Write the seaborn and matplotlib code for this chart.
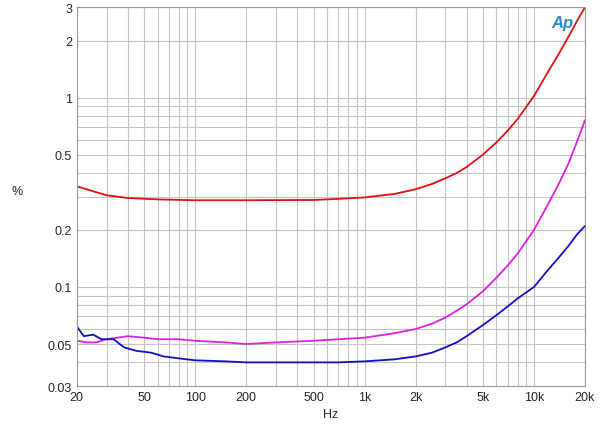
import matplotlib
matplotlib.use("Agg")
import matplotlib.pyplot as plt
from matplotlib.ticker import FixedLocator, NullFormatter, LogLocator
import seaborn as sns
import pandas as pd

# curve readings (Hz, %)
red_hz = [20, 25, 30, 40, 60, 100, 200, 500, 700, 1000, 1500, 2000, 2500, 3000, 3500, 4000, 5000, 6000, 7000, 8000, 10000, 12000, 14000, 16000, 18000, 20000]
red_pct = [0.34, 0.32, 0.305, 0.295, 0.29, 0.287, 0.287, 0.288, 0.292, 0.297, 0.31, 0.328, 0.35, 0.375, 0.40, 0.43, 0.50, 0.58, 0.67, 0.77, 1.02, 1.35, 1.7, 2.1, 2.55, 3.0]

mag_hz = [20, 23, 26, 30, 40, 50, 60, 80, 100, 150, 200, 300, 500, 700, 1000, 1500, 2000, 2500, 3000, 3500, 4000, 5000, 6000, 7000, 8000, 10000, 12000, 14000, 16000, 18000, 20000]
mag_pct = [0.052, 0.051, 0.051, 0.053, 0.055, 0.054, 0.053, 0.053, 0.052, 0.051, 0.050, 0.051, 0.052, 0.053, 0.054, 0.057, 0.060, 0.064, 0.069, 0.075, 0.081, 0.095, 0.112, 0.13, 0.15, 0.20, 0.27, 0.35, 0.45, 0.59, 0.76]

blue_hz = [20, 22, 25, 28, 33, 38, 45, 55, 65, 80, 100, 150, 200, 300, 500, 700, 1000, 1500, 2000, 2500, 3000, 3500, 4000, 5000, 6000, 7000, 8000, 10000, 12000, 14000, 16000, 18000, 20000]
blue_pct = [0.062, 0.055, 0.056, 0.053, 0.053, 0.048, 0.046, 0.045, 0.043, 0.042, 0.041, 0.0405, 0.040, 0.040, 0.040, 0.040, 0.0405, 0.0415, 0.043, 0.045, 0.048, 0.051, 0.055, 0.063, 0.071, 0.079, 0.087, 0.10, 0.122, 0.143, 0.165, 0.19, 0.21]

x_ticks = [20, 50, 100, 200, 500, 1000, 2000, 5000, 10000, 20000]
x_labels = ["20", "50", "100", "200", "500", "1k", "2k", "5k", "10k", "20k"]
y_ticks = [0.03, 0.05, 0.1, 0.2, 0.5, 1, 2, 3]
y_labels = ["0.03", "0.05", "0.1", "0.2", "0.5", "1", "2", "3"]

sns.set_style("white")
plt.rcParams['font.family'] = ['Liberation Sans', 'DejaVu Sans']

fig = plt.figure(figsize=(6, 4.31), dpi=100)
ax = fig.add_axes([0.128, 0.102, 0.847, 0.879])

for hz, pct, col in [(red_hz, red_pct, "#e01010"), (mag_hz, mag_pct, "#e020e0"), (blue_hz, blue_pct, "#1010c0")]:
    sns.lineplot(data=pd.DataFrame({"hz": hz, "pct": pct}), x="hz", y="pct", color=col, lw=1.3, ax=ax)

ax.set_xscale("log")
ax.set_yscale("log")
ax.set_xlim(20, 20000)
ax.set_ylim(0.03, 3)

ax.xaxis.set_major_locator(FixedLocator(x_ticks))
ax.set_xticklabels(x_labels)
ax.xaxis.set_minor_locator(LogLocator(base=10, subs=range(1, 10)))
ax.xaxis.set_minor_formatter(NullFormatter())
ax.yaxis.set_major_locator(FixedLocator(y_ticks))
ax.set_yticklabels(y_labels)
ax.yaxis.set_minor_locator(LogLocator(base=10, subs=range(1, 10)))
ax.yaxis.set_minor_formatter(NullFormatter())

ax.grid(True, which="both", color="#c4c4c4", lw=0.8)
ax.tick_params(which="both", length=0, labelsize=9)
for s in ax.spines.values():
    s.set_color("#999999")

ax.set_xlabel("Hz", fontsize=9)
ax.set_ylabel("%", fontsize=9, rotation=0, labelpad=22)
ax.text(0.955, 0.96, "Ap", transform=ax.transAxes, color="#2a8ac8", fontsize=12,
        fontstyle="italic", fontweight="bold", ha="center", va="center")

plt.savefig("out.png", dpi=100)
